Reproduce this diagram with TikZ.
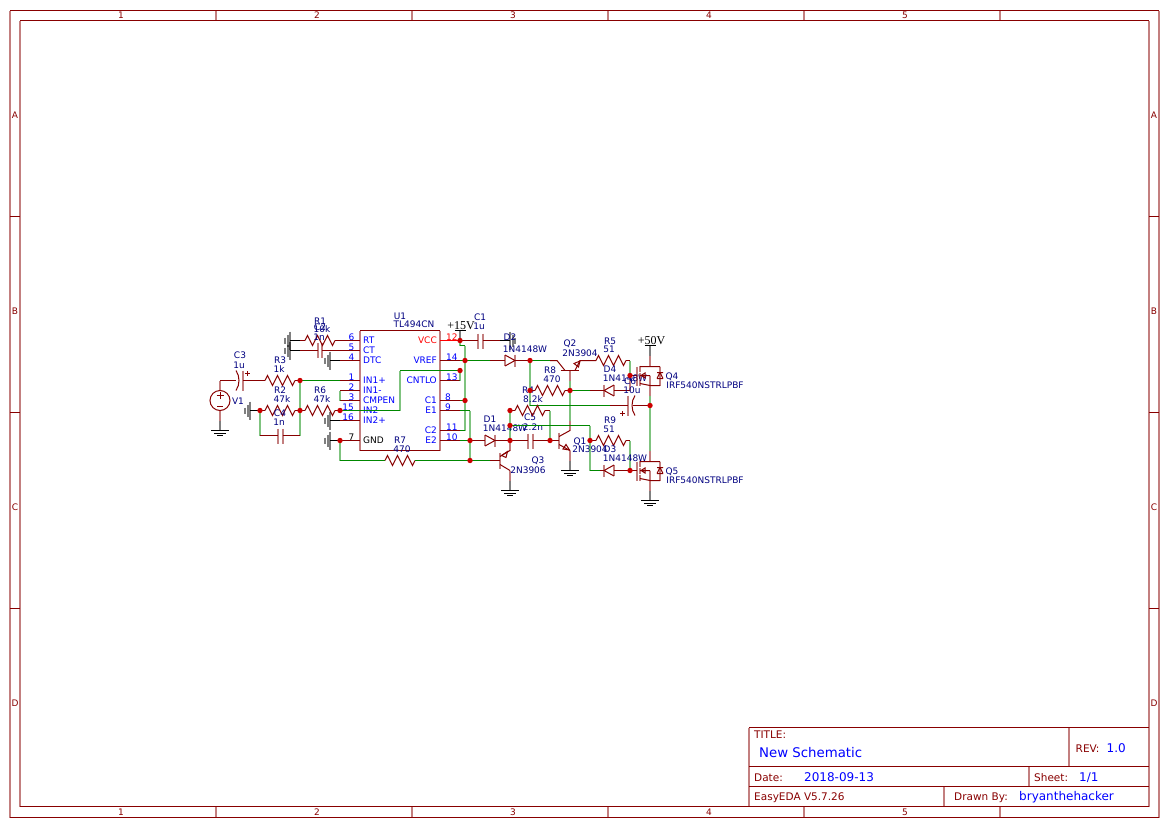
\documentclass[tikz,border=0pt]{standalone}
\usepackage{fontspec}
\setmainfont{DejaVu Sans}
\newfontfamily\voltfont{Liberation Serif}
\definecolor{pinc}{HTML}{880000}
\definecolor{wirec}{HTML}{008800}
\definecolor{dotc}{HTML}{CC0000}
\definecolor{navyc}{HTML}{000080}
\definecolor{bluec}{HTML}{0000FF}
\definecolor{framec}{HTML}{880000}
\tikzset{
  pinl/.style={draw=pinc,line width=1pt,line join=miter},
  wire/.style={draw=wirec,line width=1pt},
  blk/.style={draw=black,line width=1pt},
  pinv/.style={draw=pinc,line width=2pt,draw opacity=.5},
  wirev/.style={draw=wirec,line width=2pt,draw opacity=.5},
  blkv/.style={draw=black,line width=2pt,draw opacity=.5},
  redpin/.style={draw=red,line width=1pt},
  framel/.style={draw=framec,line width=1pt},
  framev/.style={draw=framec,line width=2pt,draw opacity=.5},
  lab/.style={inner sep=0,text=navyc,font=\fontsize{9}{9}\selectfont},
  pname/.style={inner sep=0,text=bluec,font=\fontsize{9}{9}\selectfont},
  pnum/.style={inner sep=0,text=bluec,font=\fontsize{9}{9}\selectfont},
  fr/.style={inner sep=0,text=framec,font=\fontsize{9}{9}\selectfont},
  tb/.style={inner sep=0,anchor=west,text=framec,font=\fontsize{10.5}{11}\selectfont},
  tv/.style={inner sep=0,anchor=west,text=bluec,font=\fontsize{12}{12}\selectfont},
  volt/.style={inner sep=0,text=black,font=\voltfont\fontsize{12}{12}\selectfont},
}
\newcommand{\resH}[2]{\draw[pinl] (#1,#2) -- ++(2.5,-5) -- ++(5,10) -- ++(5,-10) -- ++(5,10) -- ++(5,-10) -- ++(5,10) -- ++(2.5,-5);}
\newcommand{\gndbarsD}[2]{\draw[blk] (#1-9,#2) -- (#1+9,#2) (#1-6,#2+2.5) -- (#1+6,#2+2.5) (#1-3,#2+5) -- (#1+3,#2+5);}
\newcommand{\gndD}[2]{\draw[blkv] (#1,#2-10) -- (#1,#2);\gndbarsD{#1}{#2}}
\newcommand{\gndL}[2]{\draw[blk] (#1,#2) -- (#1+10,#2);\draw[blkv] (#1,#2-9) -- (#1,#2+9) (#1-2.5,#2-6) -- (#1-2.5,#2+6) (#1-5,#2-3) -- (#1-5,#2+3);}
\newcommand{\gndR}[2]{\draw[blk] (#1,#2) -- (#1-10,#2);\draw[blkv] (#1,#2-9) -- (#1,#2+9) (#1+2.5,#2-6) -- (#1+2.5,#2+6) (#1+5,#2-3) -- (#1+5,#2+3);}
\newcommand{\diodeR}[2]{\draw[pinl] (#1,#2-5.5) -- (#1+10,#2) -- (#1,#2+5.5);\draw[pinv] (#1,#2-5.5) -- (#1,#2+5.5) (#1+10,#2-6) -- (#1+10,#2+6);}
\newcommand{\diodeL}[2]{\draw[pinl] (#1+10,#2-5.5) -- (#1,#2) -- (#1+10,#2+5.5);\draw[pinv] (#1+10,#2-5.5) -- (#1+10,#2+5.5) (#1,#2-6) -- (#1,#2+6);}
\newcommand{\capV}[4]{\draw[pinv] (#1,#3) -- (#1,#4) (#2,#3) -- (#2,#4);}
\newcommand{\mosfet}[2]{%
  \draw[pinv] (#1-13,#2-9) -- (#1-13,#2+10)
    (#1-10,#2-10) -- (#1-10,#2-4) (#1-10,#2-3) -- (#1-10,#2+3) (#1-10,#2+4) -- (#1-10,#2+10)
    (#1+10,#2-9) -- (#1+10,#2+10) (#1,#2) -- (#1,#2+10);
  \draw[pinl] (#1-10,#2-9) -- (#1+10,#2-9) (#1+10,#2+10) -- (#1,#2+10)
    (#1-10,#2+8) -- (#1,#2+10) (#1,#2)-- (#1-10,#2)
    (#1+7,#2+3) -- (#1+13,#2+3) (#1+10,#2-3) -- (#1+7,#2+3) (#1+10,#2-3) -- (#1+13,#2+3)
    (#1+7,#2-3) -- (#1+13,#2-3)
    (#1-9,#2) -- (#1-5,#2-2.5) -- (#1-5,#2+2.5) -- cycle;}
\begin{document}
\begin{tikzpicture}[x=1pt,y=-1pt]
\useasboundingbox (0,-0.5) rectangle (1169,826.5);
% ---------- sheet frame
\draw[framel] (10,10) -- (1159,10) (10,817) -- (1159,817) (20,20) -- (1149,20) (20,806) -- (1149,806);
\draw[framev] (10,10) -- (10,817) (1159,10) -- (1159,817) (20,20) -- (20,806) (1149,20) -- (1149,806);
\foreach \x in {216,412,608,804,1000} {
  \draw[framev] (\x,10) -- (\x,20) (\x,806) -- (\x,817);
}
\foreach \y in {216,412,608} {
  \draw[framel] (10,\y) -- (20,\y) (1149,\y) -- (1159,\y);
}
\foreach \t/\x in {1/121,2/317,3/513,4/709,5/905} {
  \node[fr] (top\t) at (\x,15) {\t};
  \node[fr] (bot\t) at (\x,811.5) {\t};
}
\foreach \t/\y in {A/115,B/311,C/507,D/703} {
  \node[fr] (lft\t) at (15,\y) {\t};
  \node[fr] (rgt\t) at (1154,\y) {\t};
}
% ---------- title block
\draw[framev] (749,806) -- (749,727);
\draw[framel] (749,727) -- (1149,727);
\draw[framel] (749,766) -- (1149,766) (749,786) -- (1149,786);
\draw[framev] (1069,727) -- (1069,766) (1029,766) -- (1029,786) (944,786) -- (944,806);
\node[tb] (ttitle) at (754,734.5) {TITLE:};
\node[inner sep=0,anchor=west,text=bluec,font=\fontsize{13.3}{14}\selectfont] (tname) at (759,752) {New Schematic};
\node[tb] (trev) at (1075.5,748) {REV:};
\node[tv] (trevv) at (1106.5,748) {1.0};
\node[tb] (tdate) at (754,777) {Date:};
\node[tv] (tdatev) at (804,777) {2018-09-13};
\node[tb] (tsheet) at (1034,777) {Sheet:};
\node[tv] (tsheetv) at (1079,777) {1/1};
\node[tb] (tver) at (754,797) {EasyEDA V5.7.26};
\node[tb] (tdrawn) at (954,797) {Drawn By:};
\node[tv] (tdrawnv) at (1019,797) {bryanthehacker};
% ---------- junctions
\coordinate (j300a) at (300,380);
\coordinate (j260) at (260,410);
\coordinate (j300b) at (300,410);
\coordinate (j340a) at (340,410);
\coordinate (j340b) at (340,440);
\coordinate (jvcc) at (460,340);
\coordinate (j465a) at (465,360);
\coordinate (j460) at (460,370);
\coordinate (j465b) at (465,400);
\coordinate (j470a) at (470,440);
\coordinate (j470b) at (470,460);
\coordinate (j510a) at (510,410);
\coordinate (j510b) at (510,425);
\coordinate (j510c) at (510,440);
\coordinate (j530a) at (530,360);
\coordinate (j530b) at (530,390);
\coordinate (j550) at (550,440);
\coordinate (j570) at (570,390);
\coordinate (j590) at (590,440);
\coordinate (j630a) at (630,375);
\coordinate (j630b) at (630,470);
\coordinate (j650) at (650,405);
% ---------- U1
\draw[pinl] (360,330) -- (440,330) (360,450) -- (440,450);
\draw[pinv] (360,330) -- (360,450) (440,330) -- (440,450);
\foreach \y in {340,350,360,380,390,400,410,420,440} { \draw[pinl] (340,\y) -- (360,\y); }
\foreach \y in {360,380,400,410,430,440} { \draw[pinl] (440,\y) -- (460,\y); }
\draw[redpin] (440,340) -- (jvcc);
\foreach \n/\t/\y in {rt/RT/340,ct/CT/350,dtc/DTC/360,ina/IN1+/380,inb/IN1-/390,cmp/CMPEN/400,inc/IN2-/410,ind/IN2+/420} {
  \node[pname,anchor=west] (p\n) at (363,\y) {\t};
}
\node[pname,anchor=west,text=black] (pgnd) at (363,440) {GND};
\node[pname,anchor=east,text=red] (pvcc) at (437,340) {VCC};
\foreach \n/\t/\y in {vref/VREF/360,cnt/CNTLO/380,ca/C1/400,ea/E1/410,cb/C2/430,eb/E2/440} {
  \node[pname,anchor=east] (p\n) at (437,\y) {\t};
}
\foreach \t/\y in {6/336.5,5/346.5,4/356.5,1/376.5,2/386.5,3/396.5} { \node[pnum,anchor=east] (nl\t) at (354.5,\y) {\t}; }
\node[pnum,anchor=east] (nl15) at (354,406.5) {15};
\node[pnum,anchor=east] (nl16) at (354,416.5) {16};
\node[pnum,anchor=east,text=black] (nl7) at (354.5,436.5) {7};
\node[pnum,anchor=west,text=red] (nr12) at (446,336.5) {12};
\foreach \t/\y in {14/356.5,13/376.5,11/426.5,10/436.5} { \node[pnum,anchor=west] (nr\t) at (446,\y) {\t}; }
\foreach \t/\y in {8/396.5,9/406.5} { \node[pnum,anchor=west] (nr\t) at (445,\y) {\t}; }
\node[lab] (u1a) at (400,316) {U1};
\node[lab] (u1b) at (414,324) {TL494CN};
% ---------- left network
\gndL{290}{340}\gndL{290}{350}\gndL{330}{360}
\draw[pinl] (300,340) -- (305,340); \resH{305}{340} \draw[pinl] (335,340) -- (340,340);
\draw[pinl] (300,350) -- (318,350) (322,350) -- (340,350);
\capV{318}{322}{342.5}{357.5}
\node[lab] (r1a) at (320,320.5) {R1};
\node[lab] (r1b) at (322,329) {10k};
\node[lab] (c2a) at (320,327) {C2};
\node[lab] (c2b) at (319,337) {1n};
% V1
\draw[pinl] (220,400) circle[radius=10];
\draw[pinv] (220,390) -- (220,380);
\draw[pinl] (220,380) -- (236,380);
\draw[pinv] (220,410) -- (220,420);
\gndD{220}{430}
\draw[pinl] (216.5,395) -- (223.5,395) (220,391.5) -- (220,398.5) (217,405.5) -- (223,405.5);
\node[lab] (v1) at (238,401) {V1};
% C3
\draw[pinl] (236,370) .. controls (240,376) and (240,384) .. (236,390);
\draw[pinv] (243,370) -- (243,390);
\draw[pinl] (243,380) -- (265,380);
\draw[pinl] (245,373) -- (250,373) (247.5,370.5) -- (247.5,375.5);
\node[lab] (c3a) at (240,355) {C3};
\node[lab] (c3b) at (239,364.5) {1u};
% R3
\resH{265}{380} \draw[pinl] (295,380) -- (j300a);
\draw[wire] (j300a) -- (340,380);
\draw[wirev] (j300a) -- (300,435);
\node[lab] (r3a) at (280,360) {R3};
\node[lab] (r3b) at (279,369) {1k};
% R2 R6 C4
\gndL{250}{410}
\draw[pinl] (j260) -- (265,410); \resH{265}{410} \draw[pinl] (295,410) -- (j300b) -- (305,410); \resH{305}{410} \draw[pinl] (335,410) -- (j340a);
\draw[wirev] (j260) -- (260,435);
\draw[pinl] (260,435) -- (277.5,435) (282.5,435) -- (300,435);
\capV{277.5}{282.5}{428}{443}
\node[lab] (r2a) at (280,390) {R2};
\node[lab] (r2b) at (282,399) {47k};
\node[lab] (c4a) at (280,412.5) {C4};
\node[lab] (c4b) at (279,422) {1n};
\node[lab] (r6a) at (320,390) {R6};
\node[lab] (r6b) at (322,399) {47k};
% pins 2/3, 15, 16, 7
\draw[wirev] (340,390) -- (340,400);
\draw[wire] (j340a) -- (400,410);
\draw[wirev] (400,410) -- (400,370);
\draw[wire] (400,370) -- (j460);
\gndL{330}{420}\gndL{330}{440}
\draw[wirev] (j340b) -- (340,460);
\draw[wire] (340,460) -- (385,460);
\resH{385}{460}
\draw[wire] (415,460) -- (j470b) -- (490,460);
\node[lab] (r7a) at (400,440) {R7};
\node[lab] (r7b) at (402,449) {470};
% ---------- supply and right pins
\draw[blkv] (jvcc) -- (460,330);
\draw[blk] (454.5,330) -- (465.5,330);
\node[volt] (v15) at (461,325) {+15V};
\draw[wirev] (jvcc) -- (460,345);
\draw[wire] (460,345) -- (465,345);
\draw[wirev] (465,345) -- (465,430);
\draw[wire] (465,430) -- (460,430);
\draw[wire] (460,360) -- (j465a);
\draw[wirev] (460,370) -- (460,380);
\draw[wire] (460,400) -- (j465b);
\draw[pinl] (jvcc) -- (478,340) (483,340) -- (500,340);
\capV{478}{483}{333}{348}
\gndR{510}{340}
\node[lab] (c1a) at (480,317) {C1};
\node[lab] (c1b) at (479,326) {1u};
\node[lab] (d2a) at (510,337) {D2};
\node[lab] (d2b) at (525,349) {1N4148W};
% D2 row
\draw[wire] (j465a) -- (490,360);
\draw[pinl] (490,360) -- (505,360);
\diodeR{505}{360}
\draw[pinl] (515,360) -- (j530a);
\draw[wire] (j530a) -- (550,360);
\draw[pinl] (550,360) -- (557,360) -- (565,370);
\draw[wirev] (j530a) -- (530,405);
\draw[wire] (530,405) -- (610,405);
\draw[pinl] (610,405) -- (628,405);
% E1 / E2
\draw[wire] (460,410) -- (470,410);
\draw[wirev] (470,410) -- (j470b);
\draw[wire] (460,440) -- (j470a);
\draw[pinl] (j470a) -- (485,440);
\diodeR{485}{440}
\draw[pinl] (495,440) -- (j510c) -- (527.5,440) (532.5,440) -- (j550) -- (559,440);
\capV{527.5}{532.5}{433}{448}
\node[lab] (d1a) at (490,419) {D1};
\node[lab] (d1b) at (505,428) {1N4148W};
\node[lab] (c5a) at (530,417) {C5};
\node[lab] (c5b) at (533,427) {2.2n};
% R4
\draw[wirev] (j510a) -- (j510c);
\draw[pinl] (j510a) -- (515,410); \resH{515}{410} \draw[pinl] (545,410) -- (550,410);
\draw[wirev] (550,410) -- (j550);
\node[lab] (r4a) at (528,390) {R4};
\node[lab] (r4b) at (533,399) {8.2k};
% R8
\draw[pinl] (j530b) -- (535,390); \resH{535}{390} \draw[pinl] (565,390) -- (j570);
\node[lab] (r8a) at (550,370) {R8};
\node[lab] (r8b) at (552,379) {470};
% Q3
\draw[pinl] (490,460) -- (500,460);
\draw[pinv] (500,452) -- (500,468);
\draw[pinv] (j510c) -- (510,450) (510,470) -- (510,480);
\draw[pinl] (510,450) -- (500,456) (500,464) -- (510,470);
\draw[pinl] (501.5,455) -- (507.5,451) -- (506,457) -- cycle;
\gndD{510}{490}
\node[lab] (q3a) at (538,460) {Q3};
\node[lab] (q3b) at (528,470) {2N3906};
% Q1
\draw[pinv] (559,432) -- (559,448);
\draw[pinl] (559,436) -- (570,430) (559,444) -- (570,450);
\draw[pinv] (570,430) -- (570,420) (570,450) -- (570,460);
\draw[pinl] (569.5,449.5) -- (563,448.5) -- (566,444) -- cycle;
\gndD{570}{470}
\node[lab] (q1a) at (580,441) {Q1};
\node[lab] (q1b) at (590,449) {2N3904};
% Q2
\draw[pinl] (560.5,370) -- (578.5,370);
\draw[pinv] (570,370) -- (570,380);
\draw[wirev] (570,380) -- (570,420);
\draw[pinl] (575,370) -- (580,360) -- (596,360);
\draw[pinl] (580,360.5) -- (574,363) -- (578.5,366.5) -- cycle;
\node[lab] (q2a) at (570,343) {Q2};
\node[lab] (q2b) at (580,353) {2N3904};
% R5 R9
\resH{596}{360} \draw[pinl] (626,360) -- (630,360);
\draw[wirev] (630,360) -- (j630a);
\node[lab] (r5a) at (610,341) {R5};
\node[lab] (r5b) at (609,349) {51};
\draw[pinl] (j590) -- (596,440); \resH{596}{440} \draw[pinl] (626,440) -- (630,440);
\draw[wirev] (630,440) -- (j630b);
\node[lab] (r9a) at (610,420) {R9};
\node[lab] (r9b) at (609,429) {51};
% drive
\draw[wire] (j510b) -- (590,425);
\draw[wirev] (590,425) -- (590,470);
\draw[wire] (590,470) -- (600,470);
\draw[pinl] (600,470) -- (604,470);
\diodeL{604}{470}
\draw[pinl] (614,470) -- (j630b) -- (637,470);
\node[lab] (d3a) at (610,449) {D3};
\node[lab] (d3b) at (625,458) {1N4148W};
\draw[wire] (j570) -- (590,390);
\draw[pinl] (590,390) -- (604,390);
\diodeL{604}{390}
\draw[pinl] (614,390) -- (630,390);
\draw[pinv] (630,390) -- (j630a);
\draw[pinl] (j630a) -- (637,375);
\node[lab] (d4a) at (610,369) {D4};
\node[lab] (d4b) at (625,378) {1N4148W};
% C6
\draw[pinv] (628,395) -- (628,415);
\draw[pinl] (635,395) .. controls (631,401) and (631,409) .. (635,415);
\draw[pinl] (620,413) -- (625,413) (622.5,410.5) -- (622.5,415.5);
\draw[pinl] (633,405) -- (j650);
\node[lab] (c6a) at (630,381) {C6};
\node[lab] (c6b) at (632,390) {10u};
% MOSFETs
\mosfet{650}{375}
\mosfet{650}{470}
\draw[blkv] (650,345) -- (650,355);
\draw[blk] (644.5,345) -- (655.5,345);
\draw[pinv] (650,355) -- (650,366);
\node[volt] (v50) at (651.5,340) {+50V};
\draw[pinv] (650,385) -- (650,395);
\draw[wirev] (650,395) -- (650,450);
\draw[pinv] (650,450) -- (650,461) (650,480) -- (650,490);
\gndD{650}{500}
\node[lab] (q4a) at (672,376) {Q4};
\node[lab] (q4b) at (705,385) {IRF540NSTRLPBF};
\node[lab] (q5a) at (672,471) {Q5};
\node[lab] (q5b) at (705,480) {IRF540NSTRLPBF};
% ---------- junction dots
\foreach \j in {j300a,j260,j300b,j340a,j340b,jvcc,j465a,j460,j465b,j470a,j470b,j510a,j510b,j510c,j530a,j530b,j550,j570,j590,j630a,j630b,j650} {
  \fill[dotc] (\j) circle[radius=2.7];
}
\end{tikzpicture}
\end{document}
